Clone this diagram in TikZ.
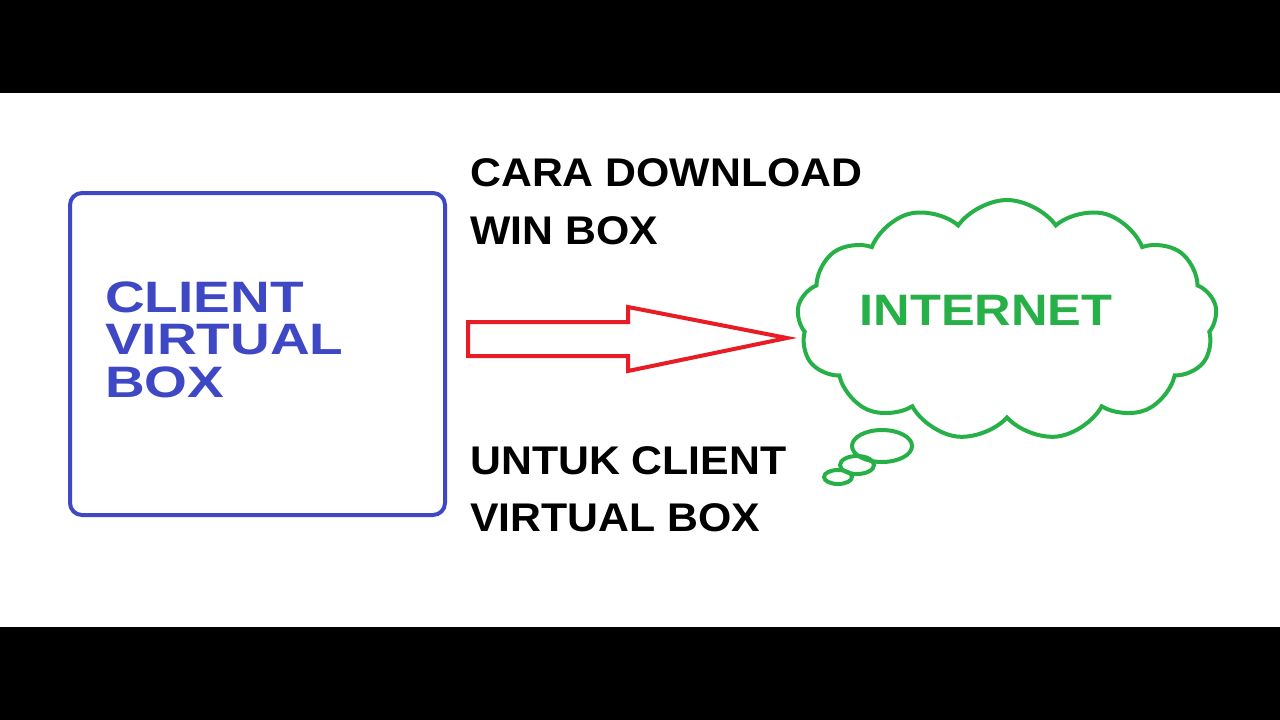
\documentclass[tikz,border=0pt]{standalone}
\usepackage{fontspec}
\setmainfont{Liberation Sans}
\usetikzlibrary{shapes.symbols,shapes.geometric}
\definecolor{cblue}{RGB}{62,72,196}
\definecolor{cgreen}{RGB}{40,176,72}
\definecolor{cred}{RGB}{232,28,36}
\tikzset{
  blk/.style={anchor=west,inner sep=0,xscale=1.07,font=\fontsize{40}{40}\selectfont\bfseries,text=black},
  bluetxt/.style={anchor=west,inner sep=0,xscale=1.25,font=\fontsize{44}{44}\selectfont\bfseries,text=cblue},
}
\begin{document}
\begin{tikzpicture}[x=1pt,y=-1pt]
\useasboundingbox (0,0) rectangle (1280,720);
\fill[white] (0,0) rectangle (1280,720);
\fill[black] (0,0) rectangle (1280,93);
\fill[black] (0,627) rectangle (1280,720);
\draw[cblue,line width=4pt,rounded corners=12pt] (70,193) rectangle (445,515);
\node[bluetxt] (c1) at (105,297) {CLIENT};
\node[bluetxt] (c2) at (105,340) {VIRTUAL};
\node[bluetxt] (c3) at (105,382) {BOX};
\node[blk] (t1) at (470,173) {CARA DOWNLOAD};
\node[blk] (t2) at (470,231) {WIN BOX};
\node[blk] (t3) at (470,461) {UNTUK CLIENT};
\node[blk] (t4) at (470,518) {VIRTUAL BOX};
\draw[cred,line width=4pt,line join=miter] (468,322)--(628,322)--(628,307)--(787,338)--(628,371)--(628,356)--(468,356)--cycle;
\node[cloud,draw=cgreen,line width=4pt,cloud puffs=13,cloud puff arc=110,aspect=1.8,minimum width=420pt,minimum height=240pt,inner sep=0] (cl) at (1007,320) {};
\node[text=cgreen,xscale=1.15,font=\fontsize{44}{44}\selectfont\bfseries] (net) at (986,310) {INTERNET};
\node[ellipse,draw=cgreen,line width=4pt,minimum width=60pt,minimum height=32pt] (b1) at (882,446) {};
\node[ellipse,draw=cgreen,line width=4pt,minimum width=34pt,minimum height=18pt] (b2) at (857,465) {};
\node[ellipse,draw=cgreen,line width=4pt,minimum width=28pt,minimum height=14pt] (b3) at (838,477) {};
\end{tikzpicture}
\end{document}
